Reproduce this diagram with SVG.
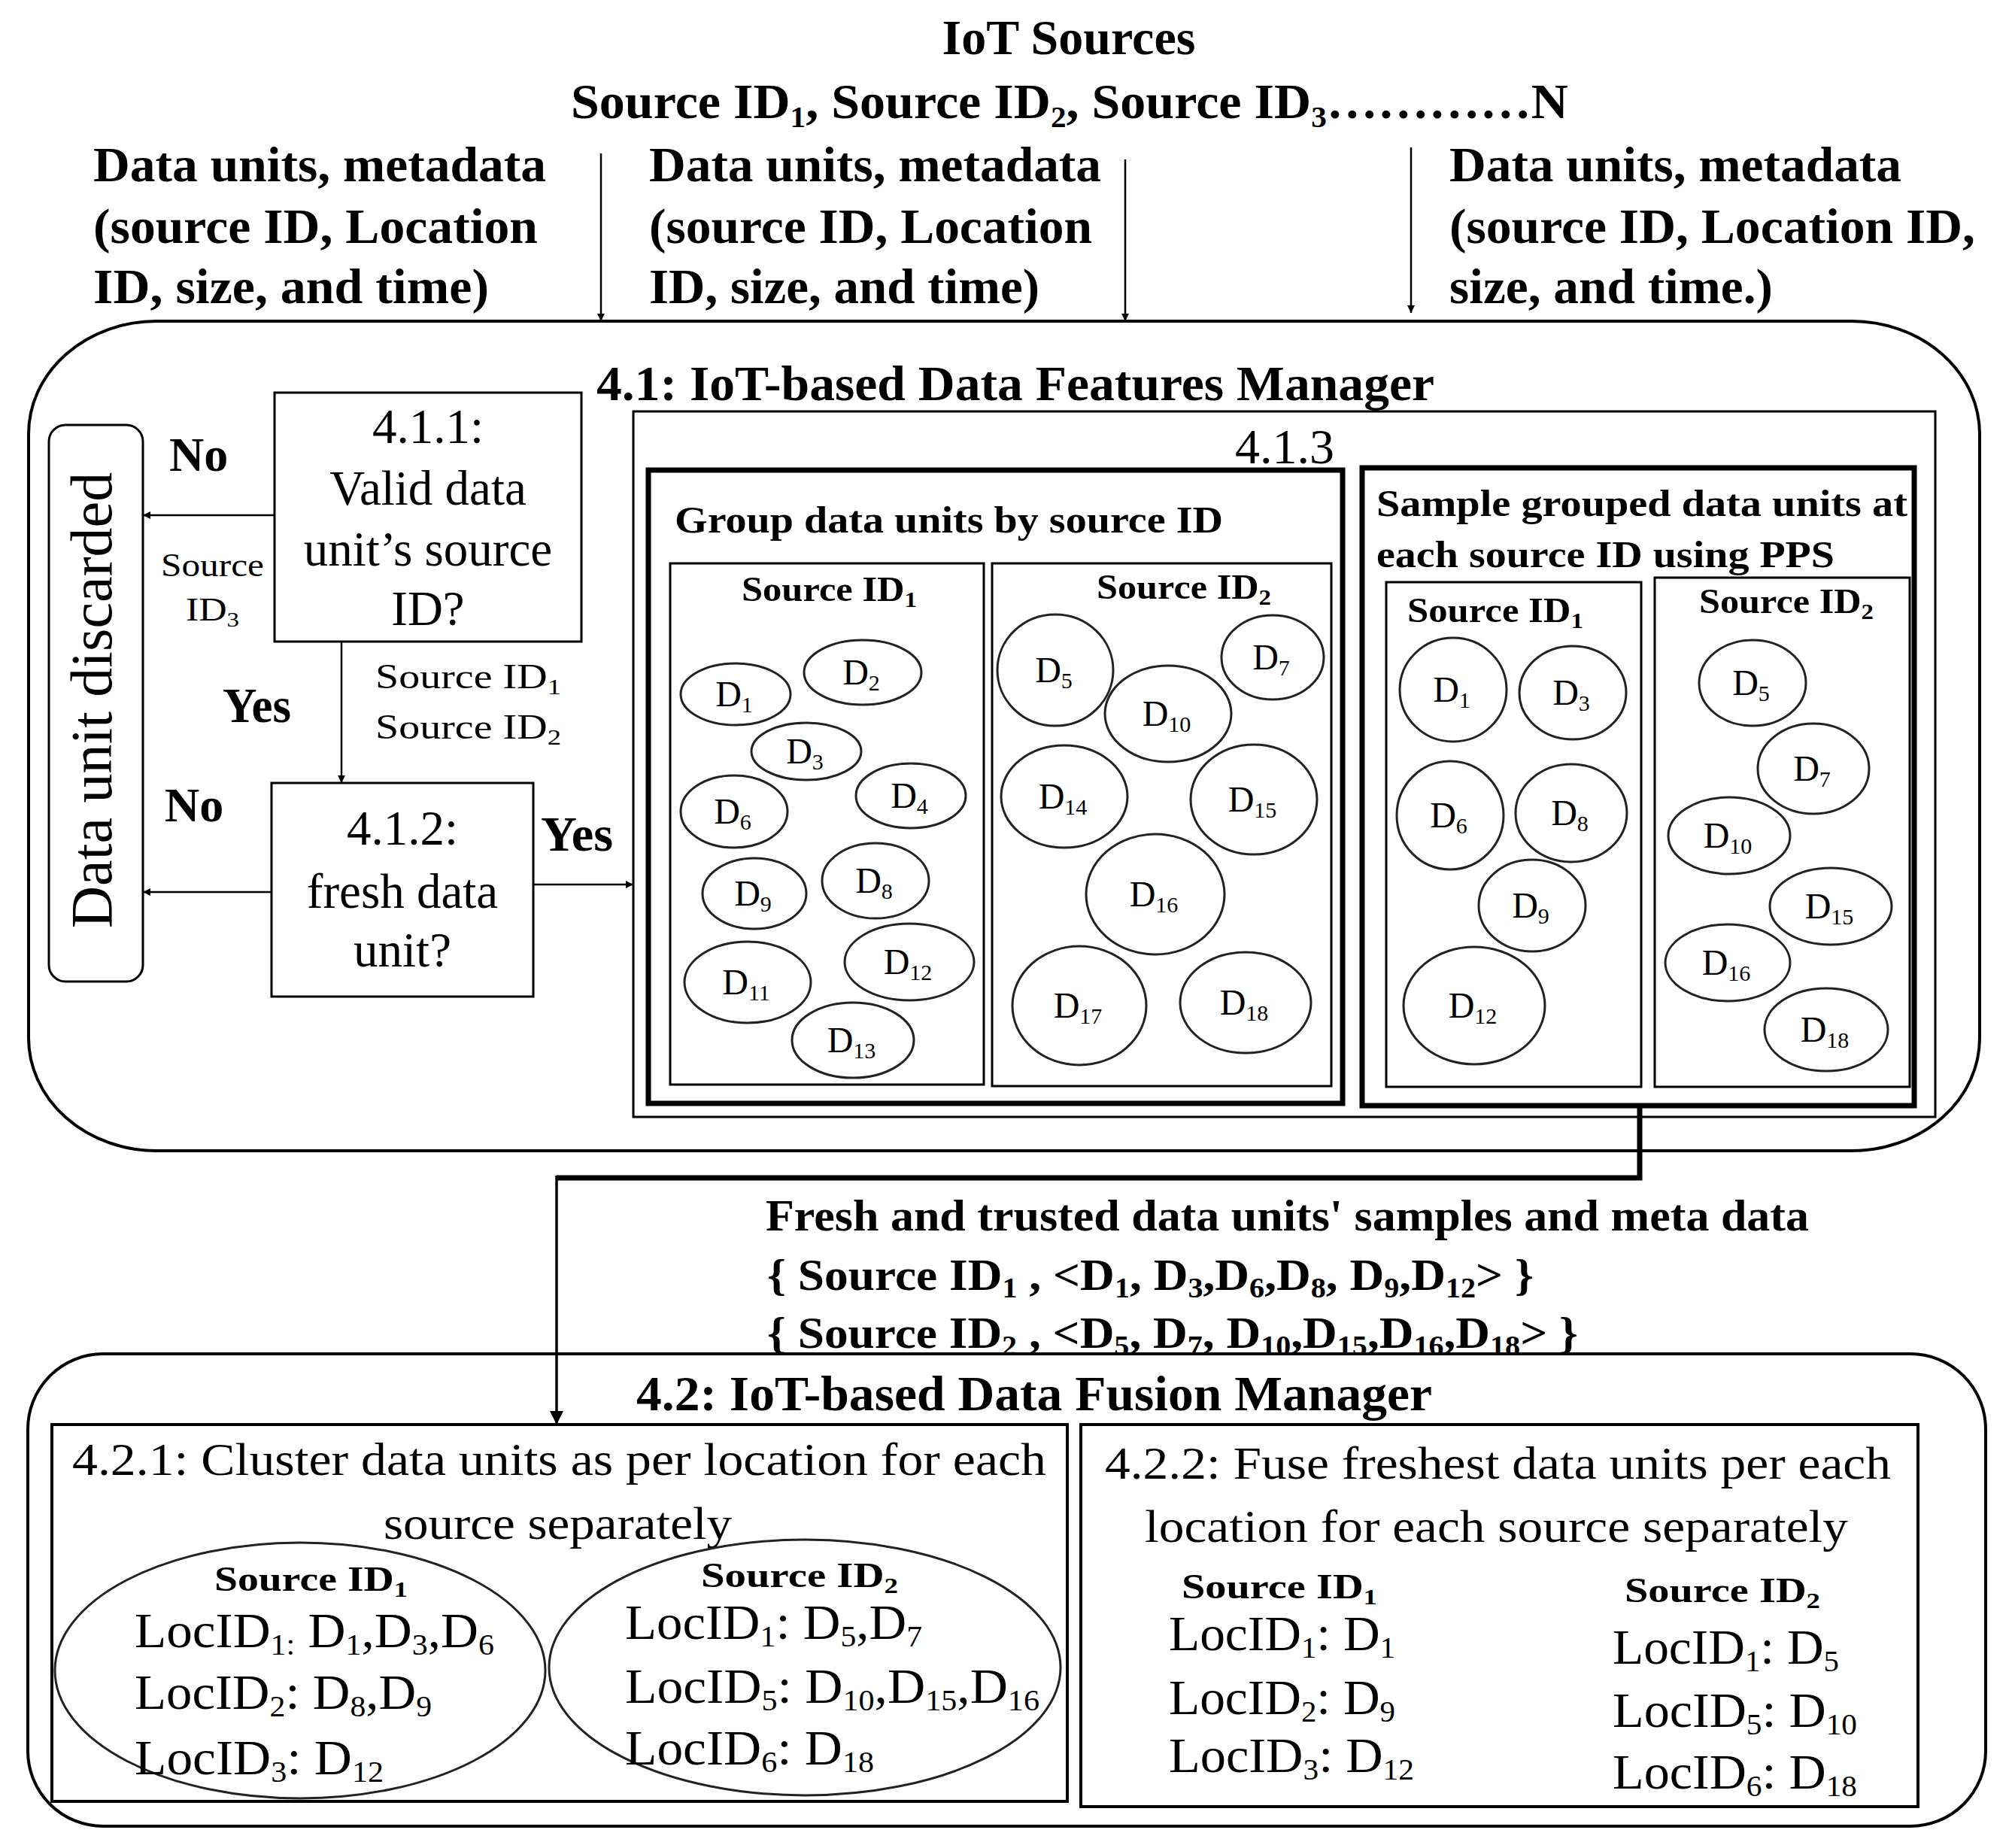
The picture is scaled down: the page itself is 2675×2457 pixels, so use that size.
<svg xmlns="http://www.w3.org/2000/svg" width="2675" height="2457" viewBox="0 0 2675 2457">
<style>
text{font-family:"Liberation Serif","Times New Roman",serif;fill:#000}
.b{font-weight:bold}
.h{font-size:66px;font-weight:bold}
.r{font-size:65px}
.sl{font-size:46px}
.dl{font-size:48px;text-anchor:middle}
.loc{font-size:66px}
.box{fill:none;stroke:#000;stroke-width:3}
.thick{fill:none;stroke:#000;stroke-width:7}
.ell{fill:none;stroke:#222;stroke-width:3}
.con{fill:none;stroke:#000;stroke-width:2.5}
.mid{text-anchor:middle}
</style>
<defs>
<marker id="a" viewBox="0 0 10 10" refX="10" refY="5" markerWidth="14" markerHeight="10" markerUnits="userSpaceOnUse" orient="auto"><path d="M0,0 L10,5 L0,10 z"/></marker>
<marker id="big" viewBox="0 0 10 10" refX="10" refY="5" markerWidth="30" markerHeight="18" markerUnits="userSpaceOnUse" orient="auto"><path d="M0,0 L10,5 L0,10 z"/></marker>
</defs>
<rect width="2675" height="2457" fill="#fff"/>

<g id="sources">
<text class="h mid" x="1421" y="72">IoT Sources</text>
<text class="h" x="759" y="157" textLength="1326" lengthAdjust="spacingAndGlyphs">Source ID<tspan font-size="40" dy="12">1</tspan><tspan dy="-12">, Source ID</tspan><tspan font-size="40" dy="12">2</tspan><tspan dy="-12">, Source ID</tspan><tspan font-size="40" dy="12">3</tspan><tspan dy="-12">…………N</tspan></text>
</g>

<g id="input-labels">
<text class="h" x="124" y="241" textLength="602" lengthAdjust="spacingAndGlyphs">Data units, metadata</text>
<text class="h" x="124" y="323" textLength="591" lengthAdjust="spacingAndGlyphs">(source ID, Location</text>
<text class="h" x="124" y="403" textLength="526" lengthAdjust="spacingAndGlyphs">ID, size, and time)</text>
<text class="h" x="863" y="241" textLength="601" lengthAdjust="spacingAndGlyphs">Data units, metadata</text>
<text class="h" x="863" y="323" textLength="589" lengthAdjust="spacingAndGlyphs">(source ID, Location</text>
<text class="h" x="863" y="403" textLength="519" lengthAdjust="spacingAndGlyphs">ID, size, and time)</text>
<text class="h" x="1927" y="241" textLength="601" lengthAdjust="spacingAndGlyphs">Data units, metadata</text>
<text class="h" x="1927" y="323" textLength="699" lengthAdjust="spacingAndGlyphs">(source ID, Location ID,</text>
<text class="h" x="1927" y="403" textLength="430" lengthAdjust="spacingAndGlyphs">size, and time.)</text>
</g>

<g id="manager-4-1">
<rect x="38" y="427" width="2594" height="1103" rx="170" ry="150" fill="none" stroke="#000" stroke-width="4"/>
<text class="h" x="793" y="532" font-size="68" textLength="1114" lengthAdjust="spacingAndGlyphs">4.1: IoT-based Data Features Manager</text>
</g>

<g id="discarded">
<rect x="65" y="565" width="125" height="740" rx="22" class="box"/>
<text transform="translate(148,931) rotate(-90)" class="mid" font-size="78">Data unit discarded</text>
</g>

<g id="n411">
<rect x="365" y="522" width="408" height="331" class="box"/>
<text class="r mid" x="569" y="589">4.1.1:</text>
<text class="r mid" x="569" y="671">Valid data</text>
<text class="r mid" x="569" y="752">unit’s source</text>
<text class="r mid" x="569" y="831">ID?</text>
</g>

<g id="n412">
<rect x="361" y="1041" width="348" height="284" class="box"/>
<text class="r mid" x="535" y="1123">4.1.2:</text>
<text class="r mid" x="535" y="1207">fresh data</text>
<text class="r mid" x="535" y="1285">unit?</text>
</g>

<g id="n413">
<rect x="842" y="547" width="1731" height="938" class="box"/>
<text class="mid" x="1708" y="616" font-size="66">4.1.3</text>
</g>

<g id="group-box">
<rect x="862" y="625" width="923" height="842" class="thick"/>
<text class="b" x="897" y="708" font-size="50" textLength="729" lengthAdjust="spacingAndGlyphs">Group data units by source ID</text>
<rect x="891" y="749" width="417" height="693" class="box"/>
<rect x="1319" y="749" width="451" height="695" class="box"/>
<text class="b sl" x="986" y="799" textLength="233" lengthAdjust="spacingAndGlyphs">Source ID<tspan font-size="30" dy="8">1</tspan></text>
<text class="b sl" x="1458" y="796" textLength="232" lengthAdjust="spacingAndGlyphs">Source ID<tspan font-size="30" dy="8">2</tspan></text>
<ellipse class="ell" cx="978" cy="923" rx="73" ry="41"/>
<text class="dl" x="976" y="939">D<tspan font-size="30" dy="8">1</tspan></text>
<ellipse class="ell" cx="1147" cy="894" rx="78" ry="43"/>
<text class="dl" x="1145" y="910">D<tspan font-size="30" dy="8">2</tspan></text>
<ellipse class="ell" cx="1072" cy="999" rx="73" ry="38"/>
<text class="dl" x="1070" y="1015">D<tspan font-size="30" dy="8">3</tspan></text>
<ellipse class="ell" cx="976" cy="1079" rx="71" ry="48"/>
<text class="dl" x="974" y="1095">D<tspan font-size="30" dy="8">6</tspan></text>
<ellipse class="ell" cx="1211" cy="1058" rx="73" ry="43"/>
<text class="dl" x="1209" y="1074">D<tspan font-size="30" dy="8">4</tspan></text>
<ellipse class="ell" cx="1003" cy="1188" rx="69" ry="47"/>
<text class="dl" x="1001" y="1204">D<tspan font-size="30" dy="8">9</tspan></text>
<ellipse class="ell" cx="1164" cy="1171" rx="71" ry="50"/>
<text class="dl" x="1162" y="1187">D<tspan font-size="30" dy="8">8</tspan></text>
<ellipse class="ell" cx="994" cy="1306" rx="84" ry="54"/>
<text class="dl" x="992" y="1322">D<tspan font-size="30" dy="8">11</tspan></text>
<ellipse class="ell" cx="1209" cy="1279" rx="86" ry="51"/>
<text class="dl" x="1207" y="1295">D<tspan font-size="30" dy="8">12</tspan></text>
<ellipse class="ell" cx="1134" cy="1383" rx="81" ry="50"/>
<text class="dl" x="1132" y="1399">D<tspan font-size="30" dy="8">13</tspan></text>
<ellipse class="ell" cx="1403" cy="891" rx="77" ry="74"/>
<text class="dl" x="1401" y="907">D<tspan font-size="30" dy="8">5</tspan></text>
<ellipse class="ell" cx="1692" cy="874" rx="68" ry="56"/>
<text class="dl" x="1690" y="890">D<tspan font-size="30" dy="8">7</tspan></text>
<ellipse class="ell" cx="1553" cy="949" rx="84" ry="64"/>
<text class="dl" x="1551" y="965">D<tspan font-size="30" dy="8">10</tspan></text>
<ellipse class="ell" cx="1415" cy="1059" rx="84" ry="68"/>
<text class="dl" x="1413" y="1075">D<tspan font-size="30" dy="8">14</tspan></text>
<ellipse class="ell" cx="1667" cy="1063" rx="84" ry="73"/>
<text class="dl" x="1665" y="1079">D<tspan font-size="30" dy="8">15</tspan></text>
<ellipse class="ell" cx="1536" cy="1189" rx="92" ry="80"/>
<text class="dl" x="1534" y="1205">D<tspan font-size="30" dy="8">16</tspan></text>
<ellipse class="ell" cx="1435" cy="1337" rx="89" ry="79"/>
<text class="dl" x="1433" y="1353">D<tspan font-size="30" dy="8">17</tspan></text>
<ellipse class="ell" cx="1656" cy="1333" rx="87" ry="67"/>
<text class="dl" x="1654" y="1349">D<tspan font-size="30" dy="8">18</tspan></text>
</g>

<g id="sample-box">
<rect x="1811" y="622" width="734" height="848" class="thick"/>
<text class="b" x="1830" y="686" font-size="50" textLength="706" lengthAdjust="spacingAndGlyphs">Sample grouped data units at</text>
<text class="b" x="1830" y="754" font-size="50" textLength="609" lengthAdjust="spacingAndGlyphs">each source ID using PPS</text>
<rect x="1843" y="774" width="339" height="671" class="box"/>
<rect x="2200" y="768" width="339" height="677" class="box"/>
<text class="b sl" x="1871" y="827" textLength="234" lengthAdjust="spacingAndGlyphs">Source ID<tspan font-size="30" dy="8">1</tspan></text>
<text class="b sl" x="2259" y="815" textLength="232" lengthAdjust="spacingAndGlyphs">Source ID<tspan font-size="30" dy="8">2</tspan></text>
<ellipse class="ell" cx="1932" cy="917" rx="71" ry="69"/>
<text class="dl" x="1930" y="933">D<tspan font-size="30" dy="8">1</tspan></text>
<ellipse class="ell" cx="2091" cy="921" rx="71" ry="62"/>
<text class="dl" x="2089" y="937">D<tspan font-size="30" dy="8">3</tspan></text>
<ellipse class="ell" cx="1928" cy="1084" rx="71" ry="72"/>
<text class="dl" x="1926" y="1100">D<tspan font-size="30" dy="8">6</tspan></text>
<ellipse class="ell" cx="2089" cy="1081" rx="74" ry="65"/>
<text class="dl" x="2087" y="1097">D<tspan font-size="30" dy="8">8</tspan></text>
<ellipse class="ell" cx="2037" cy="1204" rx="71" ry="61"/>
<text class="dl" x="2035" y="1220">D<tspan font-size="30" dy="8">9</tspan></text>
<ellipse class="ell" cx="1960" cy="1337" rx="94" ry="78"/>
<text class="dl" x="1958" y="1353">D<tspan font-size="30" dy="8">12</tspan></text>
<ellipse class="ell" cx="2330" cy="908" rx="71" ry="57"/>
<text class="dl" x="2328" y="924">D<tspan font-size="30" dy="8">5</tspan></text>
<ellipse class="ell" cx="2411" cy="1022" rx="74" ry="60"/>
<text class="dl" x="2409" y="1038">D<tspan font-size="30" dy="8">7</tspan></text>
<ellipse class="ell" cx="2299" cy="1111" rx="81" ry="51"/>
<text class="dl" x="2297" y="1127">D<tspan font-size="30" dy="8">10</tspan></text>
<ellipse class="ell" cx="2434" cy="1205" rx="81" ry="51"/>
<text class="dl" x="2432" y="1221">D<tspan font-size="30" dy="8">15</tspan></text>
<ellipse class="ell" cx="2297" cy="1280" rx="83" ry="51"/>
<text class="dl" x="2295" y="1296">D<tspan font-size="30" dy="8">16</tspan></text>
<ellipse class="ell" cx="2428" cy="1369" rx="82" ry="55"/>
<text class="dl" x="2426" y="1385">D<tspan font-size="30" dy="8">18</tspan></text>
</g>

<g id="flow-labels">
<text class="b" x="225" y="626" font-size="64">No</text>
<text x="214" y="766" font-size="44" textLength="137" lengthAdjust="spacingAndGlyphs">Source</text>
<text x="247" y="825" font-size="44" textLength="71" lengthAdjust="spacingAndGlyphs">ID<tspan font-size="28" dy="8">3</tspan></text>
<text class="b" x="296" y="960" font-size="66" textLength="91" lengthAdjust="spacingAndGlyphs">Yes</text>
<text class="sl" x="499" y="915" textLength="247" lengthAdjust="spacingAndGlyphs">Source ID<tspan font-size="30" dy="8">1</tspan></text>
<text class="sl" x="499" y="982" textLength="247" lengthAdjust="spacingAndGlyphs">Source ID<tspan font-size="30" dy="8">2</tspan></text>
<text class="b" x="219" y="1092" font-size="64">No</text>
<text class="b" x="719" y="1131" font-size="66" textLength="96" lengthAdjust="spacingAndGlyphs">Yes</text>
</g>

<g id="connectors">
<line class="con" x1="799" y1="204" x2="799" y2="427" marker-end="url(#a)"/>
<line class="con" x1="1496" y1="212" x2="1496" y2="427" marker-end="url(#a)"/>
<line class="con" x1="1876" y1="196" x2="1876" y2="416" marker-end="url(#a)"/>
<line class="con" x1="365" y1="685" x2="190" y2="685" marker-end="url(#a)"/>
<line class="con" x1="454" y1="853" x2="454" y2="1041" marker-end="url(#a)"/>
<line class="con" x1="361" y1="1186" x2="190" y2="1186" marker-end="url(#a)"/>
<line class="con" x1="709" y1="1176" x2="842" y2="1176" marker-end="url(#a)"/>
<path d="M2180,1470 V1566 H740" fill="none" stroke="#000" stroke-width="7"/>
<line x1="740" y1="1563" x2="740" y2="1894" stroke="#000" stroke-width="3.5" marker-end="url(#big)"/>
</g>

<g id="samples-label">
<text class="b" x="1018" y="1636" font-size="60" textLength="1387" lengthAdjust="spacingAndGlyphs">Fresh and trusted data units' samples and meta data</text>
<text class="b" x="1020" y="1715" font-size="60" textLength="1019" lengthAdjust="spacingAndGlyphs">{ Source ID<tspan font-size="38" dy="10">1</tspan><tspan dy="-10">  , &lt;D</tspan><tspan font-size="38" dy="10">1</tspan><tspan dy="-10">, D</tspan><tspan font-size="38" dy="10">3</tspan><tspan dy="-10">,D</tspan><tspan font-size="38" dy="10">6</tspan><tspan dy="-10">,D</tspan><tspan font-size="38" dy="10">8</tspan><tspan dy="-10">, D</tspan><tspan font-size="38" dy="10">9</tspan><tspan dy="-10">,D</tspan><tspan font-size="38" dy="10">12</tspan><tspan dy="-10">&gt; }</tspan></text>
<text class="b" x="1020" y="1792" font-size="60" textLength="1078" lengthAdjust="spacingAndGlyphs">{ Source ID<tspan font-size="38" dy="10">2</tspan><tspan dy="-10">  , &lt;D</tspan><tspan font-size="38" dy="10">5</tspan><tspan dy="-10">, D</tspan><tspan font-size="38" dy="10">7</tspan><tspan dy="-10">, D</tspan><tspan font-size="38" dy="10">10</tspan><tspan dy="-10">,D</tspan><tspan font-size="38" dy="10">15</tspan><tspan dy="-10">,D</tspan><tspan font-size="38" dy="10">16</tspan><tspan dy="-10">,D</tspan><tspan font-size="38" dy="10">18</tspan><tspan dy="-10">&gt; }</tspan></text>
</g>

<g id="manager-4-2">
<rect x="37" y="1800" width="2603" height="628" rx="100" ry="100" fill="none" stroke="#000" stroke-width="4"/>
<text class="h" x="846" y="1875" font-size="68" textLength="1058" lengthAdjust="spacingAndGlyphs">4.2: IoT-based Data Fusion Manager</text>
</g>

<g id="n421">
<rect x="69" y="1894" width="1350" height="501" fill="none" stroke="#000" stroke-width="4"/>
<text x="96" y="1961" font-size="62" textLength="1295" lengthAdjust="spacingAndGlyphs">4.2.1: Cluster data units as per location for each</text>
<text x="510" y="2046" font-size="62" textLength="463" lengthAdjust="spacingAndGlyphs">source separately</text>
<ellipse cx="399" cy="2221" rx="326" ry="170" fill="none" stroke="#222" stroke-width="3"/>
<ellipse cx="1070" cy="2217" rx="340" ry="170" fill="none" stroke="#222" stroke-width="3"/>
<text class="b sl" x="285" y="2115" textLength="257" lengthAdjust="spacingAndGlyphs">Source ID<tspan font-size="30" dy="8">1</tspan></text>
<text class="loc" x="179" y="2190" textLength="478" lengthAdjust="spacingAndGlyphs">LocID<tspan font-size="40" dy="10">1:</tspan><tspan dy="-10"> D</tspan><tspan font-size="40" dy="10">1</tspan><tspan dy="-10">,D</tspan><tspan font-size="40" dy="10">3</tspan><tspan dy="-10">,D</tspan><tspan font-size="40" dy="10">6</tspan></text>
<text class="loc" x="179" y="2272" textLength="395" lengthAdjust="spacingAndGlyphs">LocID<tspan font-size="40" dy="10">2</tspan><tspan dy="-10">: D</tspan><tspan font-size="40" dy="10">8</tspan><tspan dy="-10">,D</tspan><tspan font-size="40" dy="10">9</tspan></text>
<text class="loc" x="179" y="2359" textLength="331" lengthAdjust="spacingAndGlyphs">LocID<tspan font-size="40" dy="10">3</tspan><tspan dy="-10">: D</tspan><tspan font-size="40" dy="10">12</tspan></text>
<text class="b sl" x="932" y="2110" textLength="262" lengthAdjust="spacingAndGlyphs">Source ID<tspan font-size="30" dy="8">2</tspan></text>
<text class="loc" x="831" y="2179" textLength="395" lengthAdjust="spacingAndGlyphs">LocID<tspan font-size="40" dy="10">1</tspan><tspan dy="-10">: D</tspan><tspan font-size="40" dy="10">5</tspan><tspan dy="-10">,D</tspan><tspan font-size="40" dy="10">7</tspan></text>
<text class="loc" x="831" y="2264" textLength="551" lengthAdjust="spacingAndGlyphs">LocID<tspan font-size="40" dy="10">5</tspan><tspan dy="-10">: D</tspan><tspan font-size="40" dy="10">10</tspan><tspan dy="-10">,D</tspan><tspan font-size="40" dy="10">15</tspan><tspan dy="-10">,D</tspan><tspan font-size="40" dy="10">16</tspan></text>
<text class="loc" x="831" y="2346" textLength="331" lengthAdjust="spacingAndGlyphs">LocID<tspan font-size="40" dy="10">6</tspan><tspan dy="-10">: D</tspan><tspan font-size="40" dy="10">18</tspan></text>
</g>

<g id="n422">
<rect x="1437" y="1894" width="1113" height="508" fill="none" stroke="#000" stroke-width="4"/>
<text x="1469" y="1966" font-size="62" textLength="1045" lengthAdjust="spacingAndGlyphs">4.2.2: Fuse freshest data units per each</text>
<text x="1522" y="2050" font-size="62" textLength="935" lengthAdjust="spacingAndGlyphs">location for each source separately</text>
<text class="b sl" x="1571" y="2125" textLength="260" lengthAdjust="spacingAndGlyphs">Source ID<tspan font-size="30" dy="8">1</tspan></text>
<text class="loc" x="1554" y="2194" textLength="301" lengthAdjust="spacingAndGlyphs">LocID<tspan font-size="40" dy="10">1</tspan><tspan dy="-10">: D</tspan><tspan font-size="40" dy="10">1</tspan></text>
<text class="loc" x="1554" y="2279" textLength="301" lengthAdjust="spacingAndGlyphs">LocID<tspan font-size="40" dy="10">2</tspan><tspan dy="-10">: D</tspan><tspan font-size="40" dy="10">9</tspan></text>
<text class="loc" x="1554" y="2356" textLength="326" lengthAdjust="spacingAndGlyphs">LocID<tspan font-size="40" dy="10">3</tspan><tspan dy="-10">: D</tspan><tspan font-size="40" dy="10">12</tspan></text>
<text class="b sl" x="2160" y="2130" textLength="260" lengthAdjust="spacingAndGlyphs">Source ID<tspan font-size="30" dy="8">2</tspan></text>
<text class="loc" x="2144" y="2212" textLength="301" lengthAdjust="spacingAndGlyphs">LocID<tspan font-size="40" dy="10">1</tspan><tspan dy="-10">: D</tspan><tspan font-size="40" dy="10">5</tspan></text>
<text class="loc" x="2144" y="2296" textLength="325" lengthAdjust="spacingAndGlyphs">LocID<tspan font-size="40" dy="10">5</tspan><tspan dy="-10">: D</tspan><tspan font-size="40" dy="10">10</tspan></text>
<text class="loc" x="2144" y="2378" textLength="325" lengthAdjust="spacingAndGlyphs">LocID<tspan font-size="40" dy="10">6</tspan><tspan dy="-10">: D</tspan><tspan font-size="40" dy="10">18</tspan></text>
</g>
</svg>
